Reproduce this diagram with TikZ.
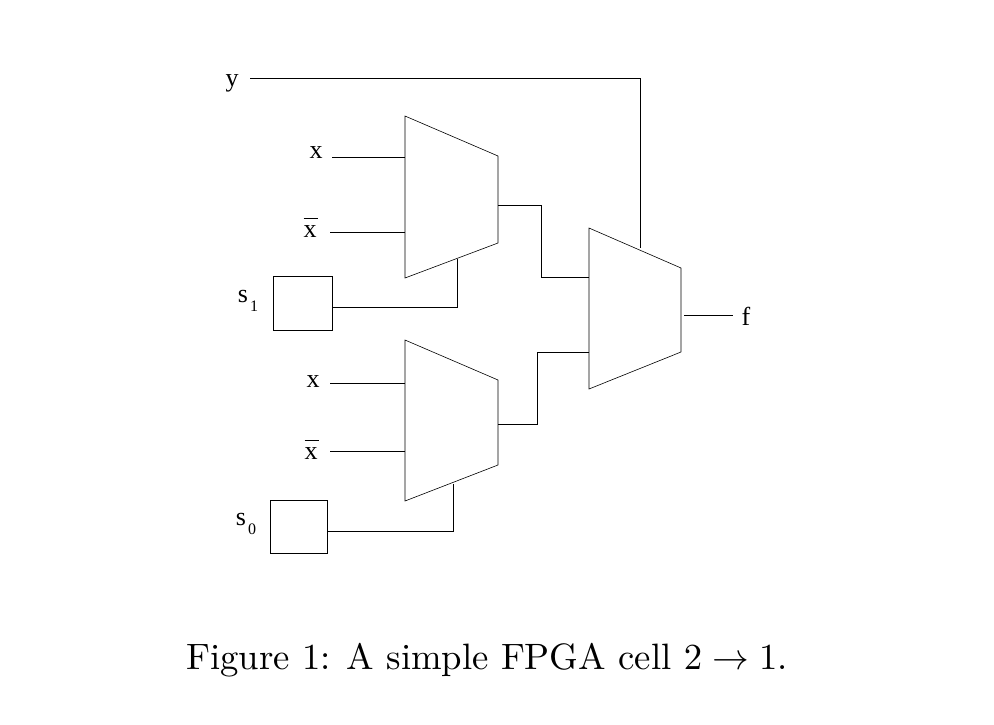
\documentclass[tikz,border=0pt]{standalone}
\usepackage{fontspec}
\newfontfamily\lab{Liberation Serif}
\newcommand{\xbarlab}{\rlap{\raisebox{0.72em}{\rule{0.55em}{0.7pt}}}x}
\newcommand{\sublab}[1]{s\hspace{2pt}\raisebox{-0.35em}{\fontsize{16}{18}\selectfont #1}}
\begin{document}
\begin{tikzpicture}[x=1pt,y=-1pt,line width=0.6pt,
 lbl/.style={font=\lab\fontsize{26}{28}\selectfont,inner sep=0pt},
 box/.style={draw}]
\useasboundingbox (0,0) rectangle (994,724);
% muxes
\draw (405,116) -- (498,156) -- (498,243) -- (405,278) -- cycle;
\draw (405,340) -- (498,380) -- (498,465) -- (405,501) -- cycle;
\draw (589,228) -- (681,268) -- (681,352) -- (589,389) -- cycle;
% labels
\node[lbl] (y) at (232,83) {y};
\node[lbl] (x1) at (316,153) {x};
\node[lbl] (xb1) at (310,228) {\xbarlab};
\node[lbl] (x2) at (313,382) {x};
\node[lbl] (xb2) at (311,450) {\xbarlab};
\node[lbl] (s1) at (248,301) {\sublab{1}};
\node[lbl] (s0) at (246,524) {\sublab{0}};
\node[lbl] (f) at (746,316) {f};
\node[box,minimum width=59pt,minimum height=54pt] (b1) at (302.5,303) {};
\node[box,minimum width=57pt,minimum height=53pt] (b0) at (298.5,526.5) {};
% wires
\draw (250,78) -- (640,78) -- (640,248);
\draw (332,157) -- (405,157);
\draw (330,232) -- (405,232);
\draw (330,383) -- (405,383);
\draw (330,451) -- (405,451);
\draw (b1.east |- 0,307) -- (457,307) -- (457,259);
\draw (b0.east |- 0,531) -- (453,531) -- (453,484);
\draw (498,205) -- (541,205) -- (541,277) -- (589,277);
\draw (498,424) -- (537,424) -- (537,352) -- (589,352);
\draw (684,315) -- (733,315);
\node[inner sep=0pt] (cap) at (487,660) {\scalebox{3.67}{\normalsize Figure 1: A simple FPGA cell $2\to 1$.}};
\end{tikzpicture}
\end{document}
